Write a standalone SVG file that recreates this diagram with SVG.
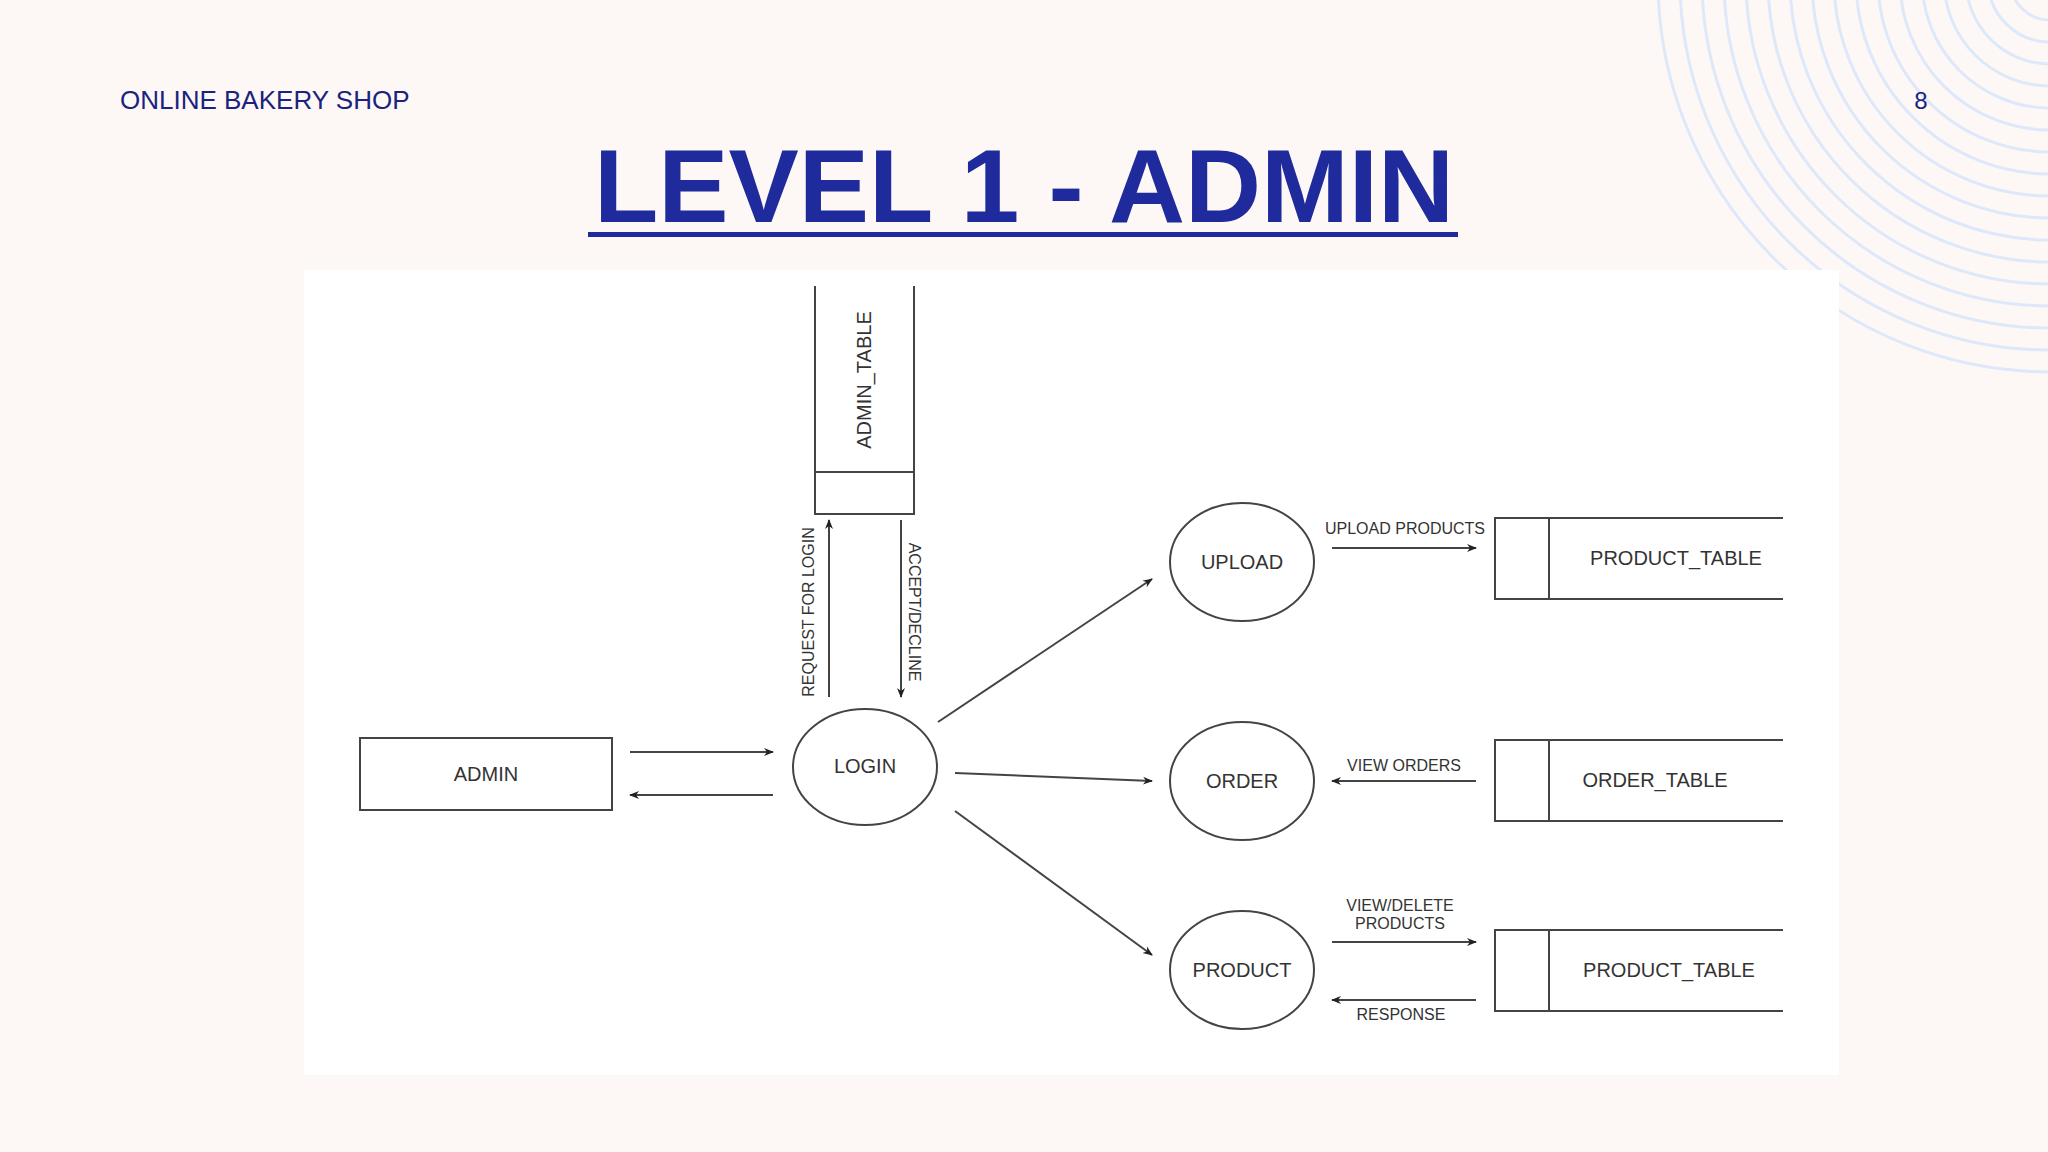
<svg xmlns="http://www.w3.org/2000/svg" width="2048" height="1152" viewBox="0 0 2048 1152">
<defs>
<marker id="ah" markerWidth="10" markerHeight="10" refX="9" refY="5" orient="auto" markerUnits="userSpaceOnUse" viewBox="0 0 10 10"><path d="M0,1 L10,5 L0,9 L3,5 z" fill="#222"/></marker>
<style>
.ln{stroke:#444;stroke-width:2;fill:none}
.sh{stroke:#444;stroke-width:2;fill:#fff}
.t{font-family:"Liberation Sans",Arial,sans-serif;font-size:20px;fill:#333;text-anchor:middle}
.s{font-family:"Liberation Sans",Arial,sans-serif;font-size:16px;fill:#333;text-anchor:middle}
.ring{fill:none;stroke:#dde9fb;stroke-width:3}
</style>
</defs>
<rect width="2048" height="1152" fill="#fdf8f5"/>
<g id="rings">
<circle class="ring" cx="2050" cy="-20" r="40"/><circle class="ring" cx="2050" cy="-20" r="62"/><circle class="ring" cx="2050" cy="-20" r="84"/><circle class="ring" cx="2050" cy="-20" r="106"/><circle class="ring" cx="2050" cy="-20" r="128"/><circle class="ring" cx="2050" cy="-20" r="150"/><circle class="ring" cx="2050" cy="-20" r="172"/><circle class="ring" cx="2050" cy="-20" r="194"/><circle class="ring" cx="2050" cy="-20" r="216"/><circle class="ring" cx="2050" cy="-20" r="238"/><circle class="ring" cx="2050" cy="-20" r="260"/><circle class="ring" cx="2050" cy="-20" r="282"/><circle class="ring" cx="2050" cy="-20" r="304"/><circle class="ring" cx="2050" cy="-20" r="326"/><circle class="ring" cx="2050" cy="-20" r="348"/><circle class="ring" cx="2050" cy="-20" r="370"/><circle class="ring" cx="2050" cy="-20" r="392"/>
</g>
<text x="120" y="109" font-family="Liberation Sans,Arial,sans-serif" font-size="26" fill="#1a237e">ONLINE BAKERY SHOP</text>
<text x="1921" y="109" font-family="Liberation Sans,Arial,sans-serif" font-size="24" fill="#1a237e" text-anchor="middle">8</text>
<text x="1024" y="222" font-family="Liberation Sans,Arial,sans-serif" font-size="104" font-weight="bold" fill="#1f2a9c" text-anchor="middle" textLength="860" lengthAdjust="spacingAndGlyphs">LEVEL 1 - ADMIN</text>
<rect x="588" y="232" width="870" height="5" fill="#1f2a9c"/>
<rect x="304" y="270" width="1535" height="805" fill="#fff"/>
<g id="admin"><rect class="sh" x="360" y="738" width="252" height="72"/><text class="t" x="486" y="781">ADMIN</text></g>
<g id="admin_table"><path class="ln" d="M815,286 V514 H914 V286 M815,472 H914"/><text class="t" transform="translate(871,380) rotate(-90)">ADMIN_TABLE</text></g>
<g id="login"><ellipse class="sh" cx="865" cy="767" rx="72" ry="58"/><text class="t" x="865" y="773">LOGIN</text></g>
<g id="upload"><ellipse class="sh" cx="1242" cy="562" rx="72" ry="59"/><text class="t" x="1242" y="569">UPLOAD</text></g>
<g id="order"><ellipse class="sh" cx="1242" cy="781" rx="72" ry="59"/><text class="t" x="1242" y="788">ORDER</text></g>
<g id="product"><ellipse class="sh" cx="1242" cy="970" rx="72" ry="59"/><text class="t" x="1242" y="977">PRODUCT</text></g>
<g id="product_table1"><path class="ln" d="M1783,518 H1495 V599 H1783 M1549,518 V599"/><text class="t" x="1676" y="565">PRODUCT_TABLE</text></g>
<g id="order_table"><path class="ln" d="M1783,740 H1495 V821 H1783 M1549,740 V821"/><text class="t" x="1655" y="787">ORDER_TABLE</text></g>
<g id="product_table2"><path class="ln" d="M1783,930 H1495 V1011 H1783 M1549,930 V1011"/><text class="t" x="1669" y="977">PRODUCT_TABLE</text></g>
<g id="connectors">
<line class="ln" x1="630" y1="752" x2="773" y2="752" marker-end="url(#ah)"/>
<line class="ln" x1="773" y1="795" x2="630" y2="795" marker-end="url(#ah)"/>
<line class="ln" x1="829" y1="697" x2="829" y2="520" marker-end="url(#ah)"/>
<line class="ln" x1="901" y1="520" x2="901" y2="697" marker-end="url(#ah)"/>
<line class="ln" x1="938" y1="722" x2="1152" y2="579" marker-end="url(#ah)"/>
<line class="ln" x1="955" y1="773" x2="1152" y2="781" marker-end="url(#ah)"/>
<line class="ln" x1="955" y1="811" x2="1152" y2="955" marker-end="url(#ah)"/>
<line class="ln" x1="1332" y1="548" x2="1476" y2="548" marker-end="url(#ah)"/>
<line class="ln" x1="1476" y1="781" x2="1332" y2="781" marker-end="url(#ah)"/>
<line class="ln" x1="1332" y1="942" x2="1476" y2="942" marker-end="url(#ah)"/>
<line class="ln" x1="1476" y1="1000" x2="1332" y2="1000" marker-end="url(#ah)"/>
<text class="s" transform="translate(814,612) rotate(-90)">REQUEST FOR LOGIN</text>
<text class="s" transform="translate(909,612) rotate(90)">ACCEPT/DECLINE</text>
<text class="s" x="1405" y="534">UPLOAD PRODUCTS</text>
<text class="s" x="1404" y="771">VIEW ORDERS</text>
<text class="s" x="1400" y="911">VIEW/DELETE</text>
<text class="s" x="1400" y="929">PRODUCTS</text>
<text class="s" x="1401" y="1020">RESPONSE</text>
</g>
</svg>
